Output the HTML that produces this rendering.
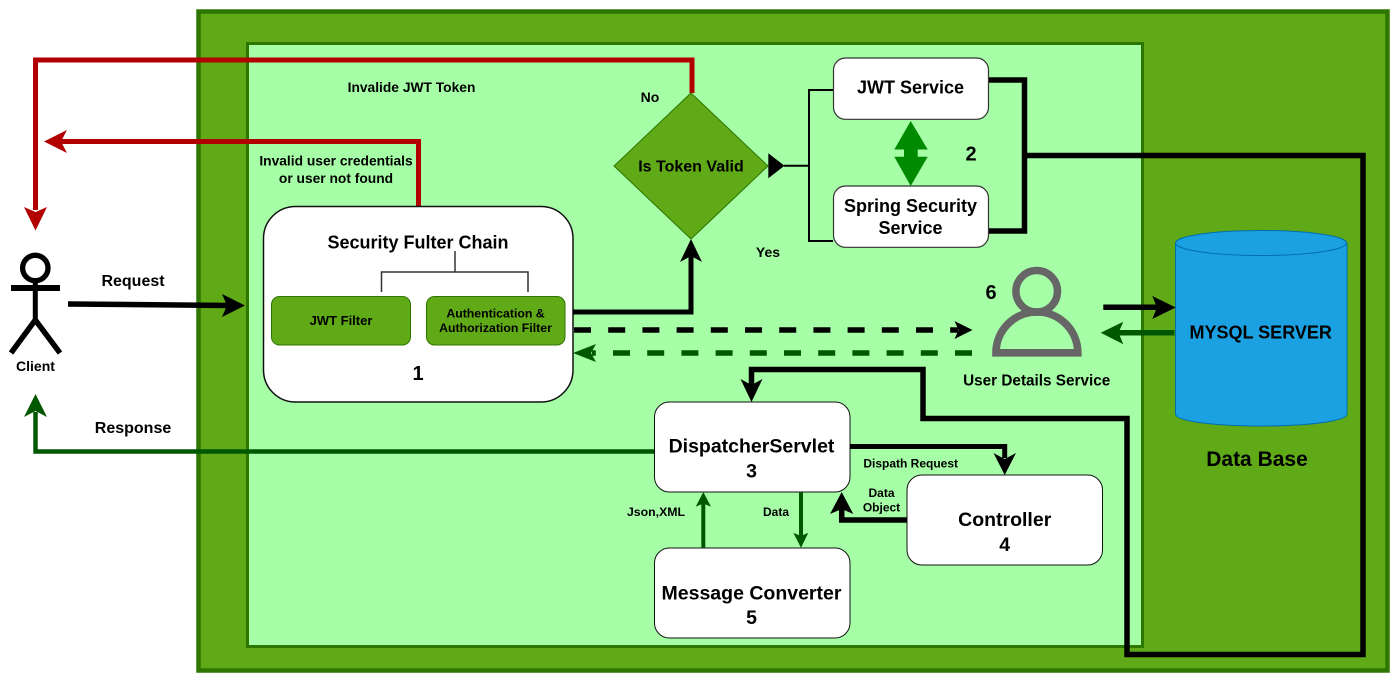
<!DOCTYPE html>
<html><head><meta charset="utf-8"><style>
html,body{margin:0;padding:0;background:#fff}
svg{display:block}
text{font-family:"Liberation Sans",sans-serif;font-weight:bold;fill:#000;text-anchor:middle}
</style></head><body>
<svg width="1400" height="681" viewBox="0 0 1400 681" xmlns="http://www.w3.org/2000/svg">
<rect width="1400" height="681" fill="#fff"/>
<rect x="198.5" y="11.5" width="1189" height="659" fill="#60A917" stroke="#2D7600" stroke-width="4.5"/>
<rect x="247.5" y="43.5" width="895" height="603" fill="#A6FFA6" stroke="#2D7600" stroke-width="3"/>

<!-- red lines -->
<path d="M692 93V60H35.5V210" fill="none" stroke="#B20000" stroke-width="5"/>
<path d="M35.500 230.500L24 207L35.500 212L47 207Z" fill="#B20000"/>
<path d="M418.500 206V141.500H60" fill="none" stroke="#B20000" stroke-width="5"/>
<path d="M44 141.500L67 130L61 141.500L67 153Z" fill="#B20000"/>

<!-- actor -->
<g fill="none" stroke="#000">
<circle cx="35.300" cy="268" r="12.700" stroke-width="5.300"/>
<path d="M35.300 281V320" stroke-width="5"/>
<path d="M11 288H60" stroke-width="6"/>
<path d="M11 353L35.300 320L60 353" stroke-width="5.500"/>
</g>
<text x="35.500" y="371" font-size="14">Client</text>

<!-- request -->
<text x="133" y="286" font-size="16">Request</text>
<path d="M68 304L230 305.500" stroke="#000" stroke-width="5.500" fill="none"/>
<path d="M245 305.500L222 294L227 305.500L222 317Z" fill="#000"/>

<text x="411.500" y="92" font-size="13.800">Invalide JWT Token</text>
<text x="336" y="165.500" font-size="13.800">Invalid user credentials</text>
<text x="336" y="183" font-size="13.800">or user not found</text>

<!-- security chain -->
<rect x="263.500" y="206.500" width="309.500" height="195.500" rx="32" fill="#fff" stroke="#111" stroke-width="1.500"/>
<text x="418" y="248.500" font-size="18">Security Fulter Chain</text>
<path d="M455 251V272M381.500 292V272H528V292" fill="none" stroke="#333" stroke-width="1.500"/>
<rect x="271.500" y="296.500" width="139" height="48.500" rx="8" fill="#60A917" stroke="#2D7600"/>
<rect x="426.500" y="296.500" width="138.500" height="48.500" rx="8" fill="#60A917" stroke="#2D7600"/>
<text x="341" y="325" font-size="13">JWT Filter</text>
<text x="495.500" y="317.500" font-size="12.300">Authentication &amp;</text>
<text x="495.500" y="332" font-size="12.300">Authorization Filter</text>
<text x="418" y="380" font-size="20">1</text>

<!-- to diamond -->
<path d="M573 312H691V255" fill="none" stroke="#000" stroke-width="5"/>
<path d="M691 239L680 262L691 256L702 262Z" fill="#000"/>

<!-- diamond -->
<path d="M691 93L768 166L691 239L614 166Z" fill="#60A917" stroke="#2D7600"/>
<text x="691" y="171.500" font-size="16">Is Token Valid</text>
<text x="650" y="102" font-size="14">No</text>
<text x="768" y="257" font-size="14">Yes</text>
<path d="M768.300 153.300L784.500 165.700L768.300 178.300Z" fill="#000"/>
<path d="M784 165.700H809M833 90H809V241H833" fill="none" stroke="#000" stroke-width="2"/>

<!-- services -->
<path d="M1024.500 155.500H1363V654.500H1127V418.500H923V369.500H751.500V385" fill="none" stroke="#000" stroke-width="5.500"/>
<path d="M751.500 402L740.500 379L751.500 385L762.500 379Z" fill="#000"/>
<path d="M988 80H1024.500V231H988" fill="none" stroke="#000" stroke-width="5.500"/>
<rect x="833.500" y="58" width="155" height="61.300" rx="12" fill="#fff" stroke="#333" stroke-width="1.200"/>
<rect x="833.500" y="186" width="155" height="61.300" rx="12" fill="#fff" stroke="#333" stroke-width="1.200"/>
<text x="910.500" y="93.500" font-size="18">JWT Service</text>
<text x="910.500" y="212" font-size="18">Spring Security</text>
<text x="910.500" y="233.800" font-size="18">Service</text>
<path d="M910.700 121L927.700 149.500H917.700V156.700H927.700L910.700 186L894.300 156.700H904V149.500H894.300Z" fill="#008A00"/>
<text x="971" y="160.500" font-size="20">2</text>

<!-- dashed -->
<path d="M574 330H958" fill="none" stroke="#000" stroke-width="5.500" stroke-dasharray="17 17.200"/>
<path d="M972.500 330L954.500 321L958.500 330L954.500 339Z" fill="#000"/>
<path d="M972 353H592" fill="none" stroke="#005700" stroke-width="5.500" stroke-dasharray="17 17.200"/>
<path d="M573 353L596 344L591 353L596 362Z" fill="#005700"/>

<!-- user -->
<circle cx="1036.700" cy="291.300" r="20.800" fill="none" stroke="#666" stroke-width="7.500"/>
<path d="M996 352.800A40.900 40.900 0 0 1 1077.800 352.800Z" fill="none" stroke="#666" stroke-width="7.700"/>
<text x="991" y="299" font-size="20">6</text>
<text x="1036.700" y="385.500" font-size="15.300">User Details Service</text>

<!-- DB -->
<path d="M1175.500 243V414C1175.500 421 1213 426 1261 426C1309 426 1347 421 1347 414V243Z" fill="#1BA1E2" stroke="#006EAF"/>
<ellipse cx="1261" cy="243" rx="85.500" ry="12.500" fill="#1BA1E2" stroke="#006EAF"/>
<text x="1260.700" y="338.500" font-size="18">MYSQL SERVER</text>
<text x="1257" y="466" font-size="21">Data Base</text>
<path d="M1103.300 307.300H1160" stroke="#000" stroke-width="5.500" fill="none"/>
<path d="M1175.700 307.500L1152.300 296L1157 307.500L1152.300 319Z" fill="#000"/>
<path d="M1174.500 332.700H1118" stroke="#005700" stroke-width="5.500" fill="none"/>
<path d="M1100.700 332.700L1123.300 321.700L1118.500 332.700L1123.300 344.300Z" fill="#005700"/>

<!-- response -->
<path d="M655 451.500H35.500V412" fill="none" stroke="#005700" stroke-width="4.500"/>
<path d="M35.500 394L24 417L35.500 411L47 417Z" fill="#005700"/>
<text x="133" y="433" font-size="16">Response</text>

<!-- dispatcher -->
<rect x="654.500" y="402" width="195.500" height="90" rx="15" fill="#fff" stroke="#111"/>
<text x="751.500" y="452.500" font-size="19.500">DispatcherServlet</text>
<text x="751.500" y="477.500" font-size="19.500">3</text>
<path d="M850 446.500H1004.700V458" fill="none" stroke="#000" stroke-width="5"/>
<path d="M1004.700 475L993.500 453L1004.700 459L1016 453Z" fill="#000"/>
<text x="910.700" y="467.500" font-size="12">Dispath Request</text>
<text x="881.500" y="497" font-size="12">Data</text>
<text x="881.500" y="511.500" font-size="12">Object</text>

<rect x="907" y="475" width="195.500" height="90" rx="15" fill="#fff" stroke="#111"/>
<text x="1004.700" y="526" font-size="19.500">Controller</text>
<text x="1004.700" y="551" font-size="19.500">4</text>
<path d="M907 520H841.700V508" fill="none" stroke="#000" stroke-width="5.500"/>
<path d="M841.700 492L830 514L841.700 509L853.300 514Z" fill="#000"/>

<rect x="654.500" y="548" width="195.500" height="90" rx="15" fill="#fff" stroke="#111"/>
<text x="751.500" y="599.500" font-size="19.500">Message Converter</text>
<text x="751.500" y="624" font-size="19.500">5</text>

<path d="M703.300 548V500" fill="none" stroke="#005700" stroke-width="4"/>
<path d="M703.300 492L695.700 506.700L703.300 503.500L711 506.700Z" fill="#005700"/>
<path d="M801 492V540" fill="none" stroke="#005700" stroke-width="4"/>
<path d="M801 547.800L793.300 532.700L801 536L808.300 532.700Z" fill="#005700"/>
<text x="656" y="516" font-size="12.300">Json,XML</text>
<text x="776" y="516" font-size="12">Data</text>
</svg>
</body></html>
